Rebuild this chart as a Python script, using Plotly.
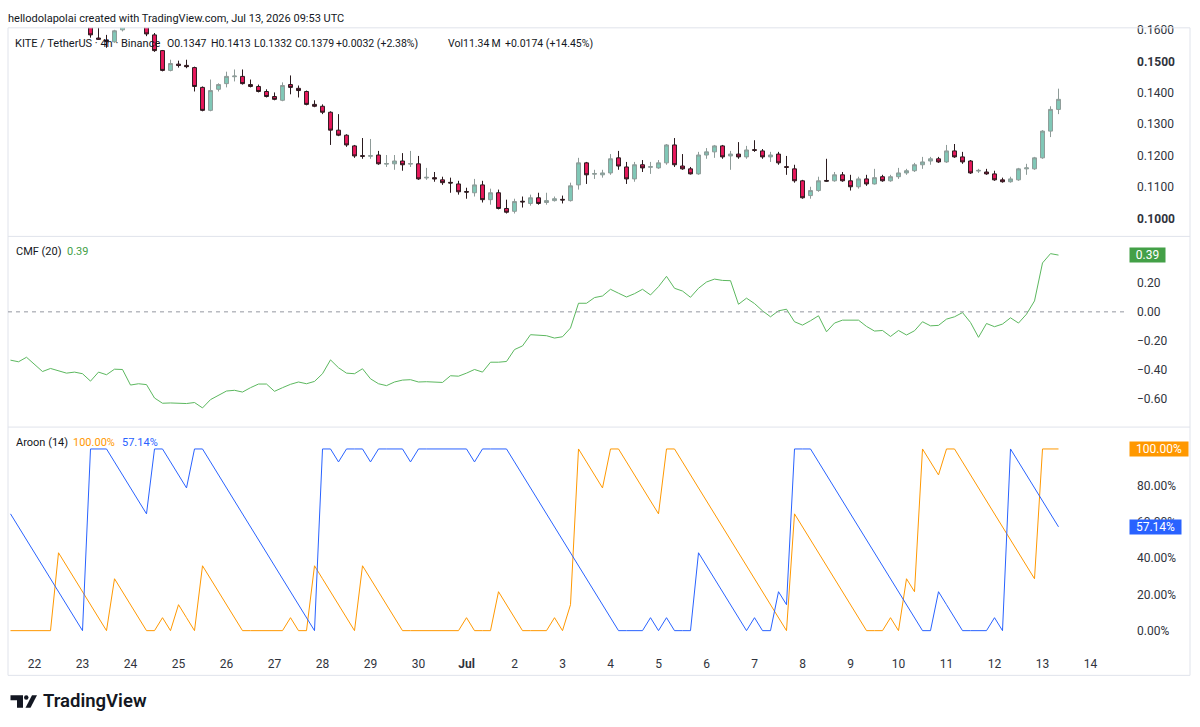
import plotly.graph_objects as go
import pandas as pd

W, H = 1200, 727
FONT = "Roboto, Inter, sans-serif"
TXT = "#131722"
AXT = "#2f333c"

# ---------------- data ----------------
candle_start = "2026-06-23 04:00"   # 4h bars
opens = [
    0.1630, 0.1574, 0.1566, 0.1562, 0.1600, 0.1625, 0.1640, 0.1630, 0.1584, 0.1534,
    0.1471, 0.1491, 0.1487, 0.1480, 0.1417, 0.1344, 0.1411, 0.1429, 0.1451, 0.1452,
    0.1426, 0.1420, 0.1404, 0.1388, 0.1376, 0.1426, 0.1414, 0.1404, 0.1363, 0.1357,
    0.1338, 0.1281, 0.1265, 0.1231, 0.1200, 0.1198, 0.1202, 0.1173, 0.1174, 0.1183,
    0.1173, 0.1174, 0.1129, 0.1130, 0.1123, 0.1115, 0.1110, 0.1086, 0.1082, 0.1107,
    0.1060, 0.1082, 0.1032, 0.1023, 0.1055, 0.1048, 0.1066, 0.1051, 0.1057, 0.1061,
    0.1057, 0.1107, 0.1177, 0.1141, 0.1139, 0.1145, 0.1193, 0.1164, 0.1126, 0.1171,
    0.1163, 0.1161, 0.1177, 0.1234, 0.1167, 0.1158, 0.1142, 0.1202, 0.1212, 0.1231,
    0.1199, 0.1205, 0.1196, 0.1219, 0.1215, 0.1196, 0.1205, 0.1165, 0.1158, 0.1120,
    0.1073, 0.1089, 0.1121, 0.1120, 0.1139, 0.1120, 0.1101, 0.1126, 0.1110, 0.1133,
    0.1120, 0.1133, 0.1145, 0.1152, 0.1171, 0.1183, 0.1190, 0.1180, 0.1215, 0.1196,
    0.1183, 0.1151, 0.1148, 0.1142, 0.1123, 0.1117, 0.1123, 0.1158, 0.1158, 0.1193,
    0.1278, 0.1347,
]
highs = [
    0.1650, 0.1613, 0.1584, 0.1600, 0.1640, 0.1655, 0.1650, 0.1640, 0.1590, 0.1536,
    0.1505, 0.1502, 0.1505, 0.1483, 0.1420, 0.1442, 0.1430, 0.1467, 0.1474, 0.1474,
    0.1442, 0.1426, 0.1411, 0.1401, 0.1433, 0.1455, 0.1423, 0.1407, 0.1376, 0.1363,
    0.1341, 0.1332, 0.1268, 0.1234, 0.1256, 0.1253, 0.1215, 0.1202, 0.1202, 0.1208,
    0.1215, 0.1199, 0.1161, 0.1148, 0.1133, 0.1130, 0.1120, 0.1098, 0.1126, 0.1120,
    0.1095, 0.1092, 0.1060, 0.1063, 0.1070, 0.1076, 0.1082, 0.1082, 0.1070, 0.1073,
    0.1114, 0.1193, 0.1180, 0.1155, 0.1155, 0.1205, 0.1215, 0.1180, 0.1180, 0.1186,
    0.1180, 0.1186, 0.1237, 0.1256, 0.1205, 0.1164, 0.1212, 0.1224, 0.1234, 0.1234,
    0.1215, 0.1243, 0.1231, 0.1249, 0.1221, 0.1212, 0.1212, 0.1199, 0.1171, 0.1123,
    0.1101, 0.1133, 0.1190, 0.1148, 0.1148, 0.1139, 0.1133, 0.1139, 0.1158, 0.1139,
    0.1139, 0.1161, 0.1158, 0.1177, 0.1196, 0.1196, 0.1196, 0.1234, 0.1237, 0.1212,
    0.1186, 0.1158, 0.1158, 0.1152, 0.1130, 0.1133, 0.1161, 0.1174, 0.1196, 0.1281,
    0.1357, 0.1413,
]
lows = [
    0.1575, 0.1568, 0.1543, 0.1559, 0.1595, 0.1620, 0.1618, 0.1580, 0.1530, 0.1468,
    0.1468, 0.1480, 0.1478, 0.1404, 0.1341, 0.1341, 0.1404, 0.1417, 0.1436, 0.1426,
    0.1417, 0.1401, 0.1385, 0.1376, 0.1373, 0.1395, 0.1385, 0.1360, 0.1354, 0.1332,
    0.1234, 0.1262, 0.1228, 0.1193, 0.1190, 0.1190, 0.1171, 0.1164, 0.1155, 0.1152,
    0.1164, 0.1123, 0.1123, 0.1117, 0.1107, 0.1082, 0.1076, 0.1063, 0.1070, 0.1051,
    0.1044, 0.1029, 0.1016, 0.1016, 0.1035, 0.1041, 0.1044, 0.1044, 0.1054, 0.1048,
    0.1054, 0.1092, 0.1110, 0.1126, 0.1130, 0.1139, 0.1155, 0.1110, 0.1117, 0.1148,
    0.1142, 0.1158, 0.1171, 0.1164, 0.1155, 0.1140, 0.1139, 0.1190, 0.1193, 0.1190,
    0.1155, 0.1190, 0.1190, 0.1212, 0.1190, 0.1180, 0.1171, 0.1139, 0.1114, 0.1063,
    0.1063, 0.1085, 0.1117, 0.1117, 0.1117, 0.1089, 0.1095, 0.1104, 0.1108, 0.1117,
    0.1117, 0.1126, 0.1139, 0.1148, 0.1158, 0.1171, 0.1177, 0.1177, 0.1193, 0.1174,
    0.1142, 0.1145, 0.1139, 0.1120, 0.1114, 0.1114, 0.1120, 0.1139, 0.1155, 0.1190,
    0.1259, 0.1332,
]
closes = [
    0.1584, 0.1570, 0.1564, 0.1597, 0.1625, 0.1640, 0.1630, 0.1587, 0.1534, 0.1471,
    0.1493, 0.1487, 0.1483, 0.1420, 0.1344, 0.1407, 0.1426, 0.1452, 0.1453, 0.1429,
    0.1420, 0.1404, 0.1388, 0.1379, 0.1423, 0.1417, 0.1407, 0.1363, 0.1357, 0.1338,
    0.1281, 0.1265, 0.1234, 0.1199, 0.1198, 0.1200, 0.1174, 0.1175, 0.1183, 0.1171,
    0.1175, 0.1126, 0.1131, 0.1126, 0.1114, 0.1113, 0.1085, 0.1084, 0.1107, 0.1060,
    0.1082, 0.1032, 0.1020, 0.1054, 0.1053, 0.1066, 0.1048, 0.1057, 0.1063, 0.1059,
    0.1104, 0.1177, 0.1139, 0.1143, 0.1145, 0.1190, 0.1167, 0.1126, 0.1171, 0.1161,
    0.1165, 0.1177, 0.1234, 0.1171, 0.1158, 0.1142, 0.1202, 0.1212, 0.1231, 0.1196,
    0.1205, 0.1196, 0.1218, 0.1217, 0.1196, 0.1202, 0.1177, 0.1163, 0.1120, 0.1066,
    0.1089, 0.1120, 0.1119, 0.1139, 0.1120, 0.1101, 0.1126, 0.1110, 0.1130, 0.1120,
    0.1133, 0.1145, 0.1152, 0.1171, 0.1180, 0.1190, 0.1180, 0.1215, 0.1196, 0.1180,
    0.1145, 0.1153, 0.1142, 0.1123, 0.1117, 0.1126, 0.1158, 0.1161, 0.1193, 0.1278,
    0.1347, 0.1379,
]

indicator_start = "2026-06-21 12:00"
cmf = [
    -0.332, -0.343, -0.312, -0.361, -0.410, -0.389, -0.405, -0.421, -0.414, -0.425,
    -0.476, -0.414, -0.432, -0.394, -0.396, -0.503, -0.494, -0.500, -0.592, -0.628,
    -0.626, -0.628, -0.630, -0.623, -0.660, -0.603, -0.573, -0.544, -0.539, -0.551,
    -0.521, -0.496, -0.496, -0.546, -0.521, -0.498, -0.482, -0.494, -0.478, -0.425,
    -0.330, -0.384, -0.421, -0.425, -0.391, -0.460, -0.494, -0.507, -0.482, -0.469,
    -0.466, -0.482, -0.480, -0.482, -0.485, -0.439, -0.442, -0.421, -0.396, -0.414,
    -0.346, -0.346, -0.341, -0.259, -0.234, -0.157, -0.162, -0.164, -0.180, -0.171,
    -0.111, 0.059, 0.059, 0.098, 0.109, 0.155, 0.128, 0.102, 0.125, 0.155,
    0.116, 0.173, 0.244, 0.162, 0.143, 0.100, 0.162, 0.205, 0.225, 0.216,
    0.214, 0.052, 0.094, 0.057, 0.007, -0.034, 0.007, 0.018, -0.068, -0.091,
    -0.061, -0.027, -0.137, -0.077, -0.057, -0.055, -0.057, -0.100, -0.132, -0.128,
    -0.169, -0.128, -0.159, -0.130, -0.068, -0.096, -0.093, -0.050, -0.034, -0.005,
    -0.073, -0.175, -0.080, -0.102, -0.084, -0.041, -0.077, -0.016, 0.075, 0.336,
    0.400, 0.390,
]
aroon_up = [
    0, 0, 0, 0, 0, 0, 42.86, 35.71, 28.57, 21.43,
    14.29, 7.14, 0, 28.57, 21.43, 14.29, 7.14, 0, 0, 7.14,
    0, 14.29, 7.14, 0, 35.71, 28.57, 21.43, 14.29, 7.14, 0,
    0, 0, 0, 0, 0, 7.14, 0, 0, 35.71, 28.57,
    21.43, 14.29, 7.14, 0, 35.71, 28.57, 21.43, 14.29, 7.14, 0,
    0, 0, 0, 0, 0, 0, 0, 7.14, 0, 0,
    0, 21.43, 14.29, 7.14, 0, 0, 0, 0, 7.14, 0,
    14.29, 100, 92.86, 85.71, 78.57, 100, 100, 92.86, 85.71, 78.57,
    71.43, 64.29, 100, 100, 92.86, 85.71, 78.57, 71.43, 64.29, 57.14,
    50, 42.86, 35.71, 28.57, 21.43, 14.29, 7.14, 0, 64.29, 57.14,
    50, 42.86, 35.71, 28.57, 21.43, 14.29, 7.14, 0, 0, 0,
    7.14, 0, 28.57, 21.43, 100, 92.86, 85.71, 100, 100, 92.86,
    85.71, 78.57, 71.43, 64.29, 57.14, 50, 42.86, 35.71, 28.57, 100,
    100, 100,
]
aroon_down = [
    64.29, 57.14, 50, 42.86, 35.71, 28.57, 21.43, 14.29, 7.14, 0,
    100, 100, 100, 92.86, 85.71, 78.57, 71.43, 64.29, 100, 100,
    92.86, 85.71, 78.57, 100, 100, 92.86, 85.71, 78.57, 71.43, 64.29,
    57.14, 50, 42.86, 35.71, 28.57, 21.43, 14.29, 7.14, 0, 100,
    100, 92.86, 100, 100, 100, 92.86, 100, 100, 100, 100,
    92.86, 100, 100, 100, 100, 100, 100, 100, 92.86, 100,
    100, 100, 100, 92.86, 85.71, 78.57, 71.43, 64.29, 57.14, 50,
    42.86, 35.71, 28.57, 21.43, 14.29, 7.14, 0, 0, 0, 0,
    7.14, 0, 7.14, 0, 0, 0, 42.86, 35.71, 28.57, 21.43,
    14.29, 7.14, 0, 7.14, 0, 0, 21.43, 14.29, 100, 100,
    100, 92.86, 85.71, 78.57, 71.43, 64.29, 57.14, 50, 42.86, 35.71,
    28.57, 21.43, 14.29, 7.14, 0, 0, 21.43, 14.29, 7.14, 0,
    0, 0, 0, 7.14, 0, 100, 92.86, 85.71, 78.57, 71.43,
    64.29, 57.14,
]

day_ticks = pd.date_range("2026-06-22", "2026-07-14", freq="D")
day_labels = ["22", "23", "24", "25", "26", "27", "28", "29", "30", "<b>Jul</b>",
              "2", "3", "4", "5", "6", "7", "8", "9", "10", "11", "12", "13", "14"]

price_ticks = [0.10, 0.11, 0.12, 0.13, 0.14, 0.15, 0.16]
price_labels = ["<b>0.1000</b>", "0.1100", "0.1200", "0.1300", "0.1400", "<b>0.1500</b>", "0.1600"]
cmf_ticks = [-0.6, -0.4, -0.2, 0.0, 0.2]
cmf_labels = ["\u22120.60", "\u22120.40", "\u22120.20", "0.00", "0.20"]
aroon_ticks = [0, 20, 40, 60, 80, 100]
aroon_labels = ["0.00%", "20.00%", "40.00%", "60.00%", "80.00%", "100.00%"]

legend_items = ["O0.1347", "H0.1413", "L0.1332", "C0.1379", "+0.0032 (+2.38%)",
                "Vol11.34\u2009M", "+0.0174 (+14.45%)"]

# ---------------- helpers ----------------
def px(x):
    return x / W

def py(y):
    return 1 - y / H

ct = pd.date_range(candle_start, periods=len(opens), freq="4h")
it_cmf = pd.date_range(indicator_start, periods=len(cmf), freq="4h")
it_up = pd.date_range(indicator_start, periods=len(aroon_up), freq="4h")
it_dn = pd.date_range(indicator_start, periods=len(aroon_down), freq="4h")

fig = go.Figure()
fig.add_trace(go.Candlestick(
    x=ct, open=opens, high=highs, low=lows, close=closes,
    increasing=dict(fillcolor="#80c8b7", line=dict(color="#8e9b98", width=1)),
    decreasing=dict(fillcolor="#e8195c", line=dict(color="#2a1a1e", width=1)),
    whiskerwidth=0, xaxis="x", yaxis="y", showlegend=False, hoverinfo="skip"))
fig.add_trace(go.Scatter(x=it_cmf, y=cmf, mode="lines", xaxis="x", yaxis="y2",
                         line=dict(color="#5cb85f", width=1), showlegend=False, hoverinfo="skip"))
fig.add_trace(go.Scatter(x=it_up, y=aroon_up, mode="lines", xaxis="x", yaxis="y3",
                         line=dict(color="#ff9800", width=1), showlegend=False, hoverinfo="skip"))
fig.add_trace(go.Scatter(x=it_dn, y=aroon_down, mode="lines", xaxis="x", yaxis="y3",
                         line=dict(color="#2962ff", width=1), showlegend=False, hoverinfo="skip"))

yax_common = dict(side="right", anchor="x", showgrid=False, zeroline=False, showline=False,
                  ticks="", tickfont=dict(family=FONT, size=12, color=AXT),
                  ticklabelstandoff=8, fixedrange=True)

fig.update_layout(
    width=W, height=H, margin=dict(l=0, r=0, t=0, b=0),
    paper_bgcolor="white", plot_bgcolor="white", showlegend=False,
    font=dict(family=FONT, color=TXT),
    xaxis=dict(domain=[px(8), px(1128)], anchor="y3", type="date",
               range=["2026-06-21 10:45", "2026-07-14 18:45"],
               tickmode="array", tickvals=day_ticks, ticktext=day_labels,
               showgrid=False, zeroline=False, showline=False, ticks="",
               tickfont=dict(family=FONT, size=12, color=AXT), ticklabelstandoff=6,
               rangeslider=dict(visible=False), fixedrange=True),
    yaxis=dict(domain=[py(233), py(23)], range=[0.09432, 0.16064],
               tickmode="array", tickvals=price_ticks, ticktext=price_labels, **yax_common),
    yaxis2=dict(domain=[py(425), py(233)], range=[-0.7917, 0.5184],
                tickmode="array", tickvals=cmf_ticks, ticktext=cmf_labels, **yax_common),
    yaxis3=dict(domain=[py(648), py(425)], range=[-9.85, 112.05],
                tickmode="array", tickvals=aroon_ticks, ticktext=aroon_labels, **yax_common),
)

# ---------------- frame / separators ----------------
frame = "#e0e3eb"
shapes = []
for yy in (23, 233, 425, 675):
    shapes.append(dict(type="line", xref="paper", yref="paper", x0=px(8), x1=px(1190),
                       y0=py(yy), y1=py(yy), line=dict(color=frame, width=1)))
for xx in (8, 1190):
    shapes.append(dict(type="line", xref="paper", yref="paper", x0=px(xx), x1=px(xx),
                       y0=py(23), y1=py(675), line=dict(color=frame, width=1)))
# CMF zero line
shapes.append(dict(type="line", xref="paper", yref="y2", x0=px(8), x1=px(1128), y0=0, y1=0,
                   line=dict(color="#9598a1", width=1, dash="4px,4px")))
# TradingView logo mark
logo = "#131722"
shapes.append(dict(type="path", xref="paper", yref="paper", fillcolor=logo, line=dict(width=0),
                   path=f"M {px(10.5)} {py(695)} L {px(23)} {py(695)} L {px(23)} {py(707.5)} "
                        f"L {px(17)} {py(707.5)} L {px(17)} {py(700)} L {px(10.5)} {py(700)} Z"))
shapes.append(dict(type="circle", xref="paper", yref="paper", fillcolor=logo, line=dict(width=0),
                   x0=px(24), x1=px(28.5), y0=py(699.5), y1=py(695)))
shapes.append(dict(type="path", xref="paper", yref="paper", fillcolor=logo, line=dict(width=0),
                   path=f"M {px(25.5)} {py(707.5)} L {px(30.5)} {py(707.5)} L {px(37)} {py(695)} "
                        f"L {px(32)} {py(695)} Z"))
fig.update_layout(shapes=shapes)

# ---------------- texts ----------------
ann = []
def text(x, y, s, size=11, color=TXT, **kw):
    d = dict(xref="paper", yref="paper", x=px(x), y=py(y), text=s, showarrow=False,
             xanchor="left", yanchor="middle", borderpad=0,
             font=dict(family=FONT, size=size, color=color))
    d.update(kw)
    ann.append(d)

text(7, 14, "hellodolapolai created with TradingView.com, Jul 13, 2026 09:53 UTC")
text(14, 39, "KITE / TetherUS · 4h · Binance")
for xpos, s in zip([166, 210, 253, 294, 335, 447, 504], legend_items):
    text(xpos, 39, s, size=10.5)

text(15, 248, "CMF (20)")
text(66, 248, "0.39", color="#43a047")
text(15, 441, "Aroon (14)")
text(72, 441, "100.00%", color="#ff9800")
text(121, 441, "57.14%", color="#2962ff")

# last-value boxes on the scales
def box(yref, yv, s, bg, w):
    ann.append(dict(xref="paper", yref=yref, x=px(1129), y=yv, text=s, showarrow=False,
                    xanchor="left", yanchor="middle", bgcolor=bg, borderpad=0,
                    width=w, height=14, align="center",
                    font=dict(family=FONT, size=12, color="white")))

box("y2", cmf[-1], "0.39", "#43a047", 35)
box("y3", aroon_up[-1], "100.00%", "#ff9800", 58)
box("y3", aroon_down[-1], "57.14%", "#2962ff", 51)

# logo word
ann.append(dict(xref="paper", yref="paper", x=px(42), y=py(701), text="TradingView",
                showarrow=False, xanchor="left", yanchor="middle", borderpad=0,
                font=dict(family=FONT, size=18.5, color=logo, weight=600)))

fig.update_layout(annotations=ann)
fig.write_html("out.html")
